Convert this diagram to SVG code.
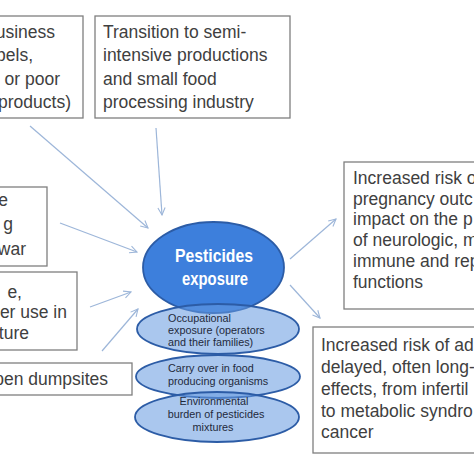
<svg xmlns="http://www.w3.org/2000/svg" width="474" height="474" viewBox="0 0 474 474">
<style>
.box{fill:#fff;stroke:#7f7f7f;stroke-width:1.3}
.t{font-family:"Liberation Sans",Arial,sans-serif;font-size:17.5px;fill:#404040}
.s{font-family:"Liberation Sans",Arial,sans-serif;font-size:10.8px;fill:#1f2a3c}
.c{stroke:#9db6d9;stroke-width:1.2;fill:none;marker-end:url(#ah)}
.lt{fill:#6499e0;fill-opacity:0.55;stroke:#2c5ca6;stroke-width:1.8}
</style>
<defs>
<marker id="ah" viewBox="0 0 10 10" refX="9" refY="5" markerWidth="9" markerHeight="9" markerUnits="userSpaceOnUse" orient="auto">
<path d="M1,1 L9,5 L1,9" fill="none" stroke="#9db6d9" stroke-width="1.2"/>
</marker>
</defs>
<rect width="474" height="474" fill="#fff"/>
<g id="n-business">
<rect class="box" x="-5" y="16" width="88" height="102"/>
<text class="t" text-anchor="end"><tspan x="55" y="38">usiness</tspan><tspan x="33" y="61">bels,</tspan><tspan x="60" y="85">or poor</tspan><tspan x="71" y="108">products)</tspan></text>
</g>
<g id="n-transition">
<rect class="box" x="95" y="16" width="195" height="102"/>
<text class="t"><tspan x="103" y="38">Transition to semi-</tspan><tspan x="103" y="61">intensive productions</tspan><tspan x="103" y="85">and small food</tspan><tspan x="103" y="108">processing industry</tspan></text>
</g>
<g id="n-war">
<rect class="box" x="-5" y="187" width="52" height="79"/>
<text class="t" text-anchor="end"><tspan x="8" y="206">e</tspan><tspan x="13" y="230">g</tspan><tspan x="26" y="255">war</tspan></text>
</g>
<g id="n-use">
<rect class="box" x="-5" y="272" width="82" height="78"/>
<text class="t" text-anchor="end"><tspan x="22" y="298">e,</tspan><tspan x="67" y="318">er use in</tspan><tspan x="29" y="339">ture</tspan></text>
</g>
<g id="n-dump">
<rect class="box" x="-5" y="363" width="137" height="32"/>
<text class="t" text-anchor="end" x="108" y="385">pen dumpsites</text>
</g>
<g id="n-pregnancy">
<rect class="box" x="344" y="162" width="140" height="147"/>
<text class="t"><tspan x="353" y="184">Increased risk o</tspan><tspan x="353" y="205">pregnancy outc</tspan><tspan x="353" y="225">impact on the p</tspan><tspan x="353" y="246">of neurologic, m</tspan><tspan x="353" y="267">immune and rep</tspan><tspan x="353" y="288">functions</tspan></text>
</g>
<g id="n-delayed">
<rect class="box" x="313" y="327" width="171" height="126"/>
<text class="t"><tspan x="321" y="351">Increased risk of ad</tspan><tspan x="321" y="373">delayed, often long-</tspan><tspan x="321" y="395">effects, from infertil</tspan><tspan x="321" y="417">to metabolic syndro</tspan><tspan x="321" y="438">cancer</tspan></text>
</g>
<g id="connectors">
<line class="c" x1="30" y1="126" x2="148" y2="228"/>
<line class="c" x1="156" y1="128" x2="162" y2="215"/>
<line class="c" x1="60" y1="223" x2="137" y2="252"/>
<line class="c" x1="90" y1="307" x2="131" y2="292"/>
<line class="c" x1="102" y1="351" x2="138" y2="309"/>
<line class="c" x1="290" y1="259" x2="336" y2="219"/>
<line class="c" x1="290" y1="285" x2="320" y2="318"/>
</g>
<g id="n-pesticides">
<ellipse cx="213.5" cy="267.5" rx="70.5" ry="45.5" fill="#3d7fdc" stroke="#2c5ca6" stroke-width="1.8"/>
<text font-family="Liberation Sans,Arial,sans-serif" font-weight="bold" font-size="18" fill="#fff" text-anchor="middle"><tspan x="214" y="262" textLength="78" lengthAdjust="spacingAndGlyphs">Pesticides</tspan><tspan x="215" y="285" textLength="66" lengthAdjust="spacingAndGlyphs">exposure</tspan></text>
</g>
<g id="n-occupational">
<ellipse class="lt" cx="218" cy="329" rx="81" ry="25"/>
<text class="s"><tspan x="168" y="322">Occupational</tspan><tspan x="168" y="334">exposure (operators</tspan><tspan x="168" y="346">and their families)</tspan></text>
</g>
<g id="n-carry">
<ellipse class="lt" cx="218" cy="376.5" rx="82" ry="21.5"/>
<text class="s"><tspan x="168" y="372">Carry over in food</tspan><tspan x="168" y="385">producing organisms</tspan></text>
</g>
<g id="n-env">
<ellipse class="lt" cx="217" cy="417" rx="82" ry="25"/>
<text class="s" text-anchor="middle"><tspan x="214" y="405">Environmental</tspan><tspan x="216" y="418">burden of pesticides</tspan><tspan x="213" y="431">mixtures</tspan></text>
</g>
</svg>
